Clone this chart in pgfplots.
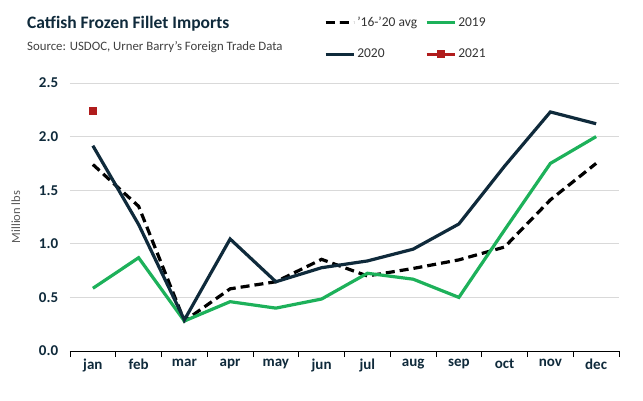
\documentclass[border=0pt]{standalone}
\usepackage{fontspec}
\setmainfont{Carlito}
\usepackage{pgfplots}
\pgfplotsset{compat=1.18}
\definecolor{navy}{HTML}{0F2A3B}
\definecolor{grn}{HTML}{1DB15A}
\definecolor{redd}{HTML}{B01C1C}
\definecolor{gridc}{HTML}{D9D9D9}
\begin{document}
\begin{tikzpicture}
\path[use as bounding box] (0,0) rectangle (643pt,400pt);
\node[anchor=base west, font=\fontsize{17.5}{20}\selectfont\bfseries, text=navy, inner sep=0] at (27pt,371pt) {Catfish Frozen Fillet Imports};
\node[anchor=base west, font=\fontsize{12.8}{15}\selectfont, text=black!75, inner sep=0] at (27pt,349pt) {Source: USDOC, Urner Barry's Foreign Trade Data};
\begin{axis}[
  at={(70pt,49pt)}, anchor=south west,
  scale only axis, width=549pt, height=268pt,
  xmin=-0.5, xmax=11.5, ymin=0, ymax=2.5,
  xtick={0,...,11},
  xticklabels={jan,feb,mar,apr,may,jun,jul,aug,sep,oct,nov,dec},
  minor xtick={-0.5,0.5,...,11.5},
  major x tick style={draw=none},
  minor x tick style={black, line width=0.8pt},
  minor tick length=6pt,
  tick align=outside,
  ytick={0,0.5,...,2.5},
  ymajorgrids, grid style={gridc, line width=0.8pt},
  y tick style={draw=none},
  axis y line*=left,
  y axis line style={draw=none},
  axis x line*=bottom,
  x axis line style={black, line width=0.8pt, -},
  yticklabel style={font=\fontsize{15}{17}\selectfont\bfseries, text=navy, /pgf/number format/.cd, fixed, fixed zerofill, precision=1, assume math mode=true},
  xticklabel style={font=\fontsize{15}{17}\selectfont\bfseries, text=navy},
  yticklabel shift=4pt,
  ylabel={Million lbs},
  ylabel style={font=\fontsize{12.5}{15}\selectfont, text=black!65},
  ylabel shift=12pt,
  clip=false,
  legend columns=2,
  legend cell align=left,
  legend style={draw=none, fill=none, at={(0.457,1.262)}, anchor=north west,
    font=\fontsize{13.5}{16}\selectfont, text=black!80,
    /tikz/every even column/.append style={column sep=6pt},
    row sep=17pt},
  legend image code/.code={\draw[mark repeat=2, mark phase=2, #1] plot coordinates {(0pt,0pt) (14pt,0pt) (28pt,0pt)};},
]
\addplot[black, line width=3.2pt, dash pattern=on 9pt off 5pt] coordinates {
(0,1.74) (1,1.35) (2,0.28) (3,0.58) (4,0.646) (5,0.855) (6,0.70) (7,0.77) (8,0.85) (9,0.97) (10,1.41) (11,1.75)};
\addlegendentry{'16-'20 avg}
\addplot[grn, line width=3.2pt] coordinates {
(0,0.585) (1,0.87) (2,0.28) (3,0.46) (4,0.40) (5,0.485) (6,0.725) (7,0.67) (8,0.50) (9,1.13) (10,1.75) (11,2.0)};
\addlegendentry{2019}
\addplot[navy, line width=3.2pt] coordinates {
(0,1.915) (1,1.18) (2,0.29) (3,1.045) (4,0.646) (5,0.777) (6,0.84) (7,0.95) (8,1.185) (9,1.725) (10,2.23) (11,2.12)};
\addlegendentry{2020}
\addplot[redd, line width=3.2pt, mark=square*, mark size=3.5pt, mark options={solid, line width=0pt}] coordinates {(0,2.24)};
\addlegendentry{2021}
\end{axis}
\end{tikzpicture}
\end{document}
